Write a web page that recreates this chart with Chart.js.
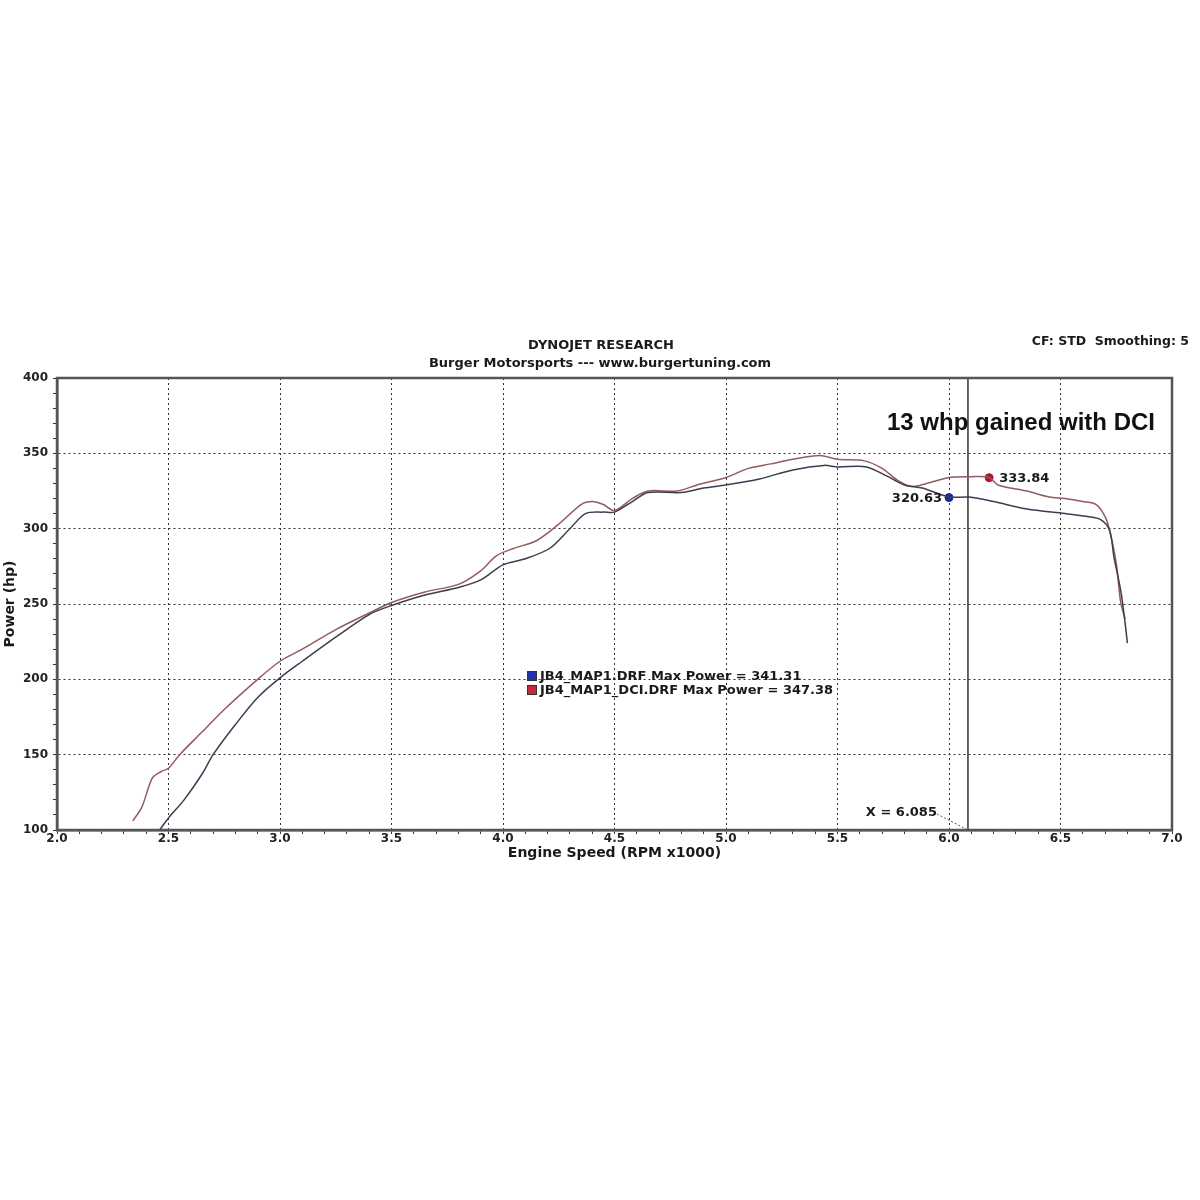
<!DOCTYPE html>
<html>
<head>
<meta charset="utf-8">
<script src="https://cdn.jsdelivr.net/npm/chart.js@4/dist/chart.umd.min.js"></script>
<style>
  html, body { margin: 0; background: #fff; }
</style>
</head>
<body>
<canvas id="dyno" width="1200" height="1200"></canvas>
<script>
// run 1: JB4 map 1 (blue)
const rpmMap1 = [2.46, 2.50, 2.57, 2.65, 2.70, 2.80, 2.90, 3.00, 3.10, 3.25, 3.40, 3.50, 3.65, 3.80, 3.90, 4.00,
  4.10, 4.21, 4.30, 4.37, 4.45, 4.50, 4.58, 4.65, 4.80, 4.90, 5.00, 5.15, 5.30, 5.44, 5.50, 5.63, 5.72, 5.80,
  5.88, 6.00, 6.09, 6.20, 6.35, 6.52, 6.62, 6.68, 6.72, 6.74, 6.77, 6.79, 6.80];
const hpMap1 = [100, 108, 120, 137, 150, 170, 188, 201, 212, 228, 243, 249, 256, 261, 266, 276,
  280, 287, 300, 310, 311, 311, 318, 324, 324, 327, 329, 333, 339, 342, 341, 341, 335, 329,
  327, 321, 321, 318, 313, 310, 308, 306, 299, 281, 259, 237, 224];

// run 2: JB4 map 1 + DCI (red)
const rpmDci = [2.34, 2.38, 2.41, 2.43, 2.47, 2.50, 2.55, 2.65, 2.75, 2.90, 3.00, 3.10, 3.25, 3.40, 3.50, 3.65,
  3.80, 3.90, 3.97, 4.05, 4.15, 4.25, 4.35, 4.40, 4.45, 4.50, 4.58, 4.65, 4.78, 4.87, 5.00, 5.10, 5.20, 5.30,
  5.42, 5.50, 5.62, 5.70, 5.77, 5.83, 5.90, 6.00, 6.10, 6.18, 6.22, 6.35, 6.45, 6.52, 6.60, 6.66, 6.70, 6.72,
  6.75, 6.77, 6.79];
const hpDci = [106, 115, 128, 135, 139, 141, 150, 165, 180, 200, 212, 220, 233, 244, 251, 258,
  263, 272, 282, 287, 292, 303, 316, 318, 316, 312, 320, 325, 325, 329, 334, 340, 343, 346,
  348.5, 346, 345, 340, 332, 328, 330, 334, 334.5, 334, 329, 325, 321, 320, 318, 316, 308, 299,
  277, 251, 240];

const xLabels = ["2.0", "2.5", "3.0", "3.5", "4.0", "4.5", "5.0", "5.5", "6.0", "6.5", "7.0"];
const yLabels = ["100", "150", "200", "250", "300", "350", "400"];

const cursorRpm = 6.085;
const markMap1 = { x: 6.0, y: 320.63 };
const markDci = { x: 6.18, y: 333.84 };
const legendLabels = ["JB4_MAP1.DRF Max Power = 341.31", "JB4_MAP1_DCI.DRF Max Power = 347.38"];

const FONT = "DejaVu Sans";
const toPoints = (xs, ys) => xs.map((x, i) => ({ x: x, y: ys[i] }));
const isMajor = (v, step) => Math.abs(v / step - Math.round(v / step)) < 1e-6;

const overlay = {
  id: "overlay",
  beforeDraw(chart) {
    const ctx = chart.ctx;
    ctx.save();
    ctx.fillStyle = "#fff";
    ctx.fillRect(0, 0, chart.width, chart.height);
    ctx.restore();
  },
  beforeDatasetsDraw(chart) {
    const { ctx, chartArea: a, scales: { x } } = chart;
    const cx = x.getPixelForValue(cursorRpm);
    ctx.save();
    ctx.strokeStyle = "#333";
    ctx.lineWidth = 1.5;
    ctx.beginPath();
    ctx.moveTo(cx, a.top);
    ctx.lineTo(cx, a.bottom);
    ctx.stroke();
    ctx.restore();
  },
  afterDraw(chart) {
    const { ctx, chartArea: a, scales: { x, y } } = chart;
    ctx.save();
    ctx.strokeStyle = "#555";
    ctx.lineWidth = 2.5;
    ctx.strokeRect(a.left, a.top, a.right - a.left, a.bottom - a.top);

    ctx.fillStyle = "#1a1a1a";
    ctx.textBaseline = "middle";
    ctx.font = "bold 13px " + FONT;
    ctx.textAlign = "center";
    ctx.fillText("DYNOJET RESEARCH", 601, 346);
    ctx.fillText("Burger Motorsports --- www.burgertuning.com", 600, 364);
    ctx.font = "bold 12.5px " + FONT;
    ctx.textAlign = "right";
    ctx.fillText("CF: STD  Smoothing: 5", 1189, 342);

    // annotation
    ctx.textAlign = "left";
    ctx.font = "bold 24px 'Liberation Sans'";
    ctx.fillStyle = "#111";
    ctx.fillText("13 whp gained with DCI", 887, 423);

    // marker labels
    ctx.font = "bold 13px " + FONT;
    ctx.fillStyle = "#1a1a1a";
    ctx.textAlign = "right";
    ctx.fillText(markMap1.y.toFixed(2), x.getPixelForValue(markMap1.x) - 7, y.getPixelForValue(markMap1.y) + 1);
    ctx.textAlign = "left";
    ctx.fillText(markDci.y.toFixed(2), x.getPixelForValue(markDci.x) + 10, y.getPixelForValue(markDci.y) + 1);

    // cursor readout
    const cx = x.getPixelForValue(cursorRpm);
    ctx.textAlign = "right";
    ctx.fillText("X = " + cursorRpm.toFixed(3), cx - 31, a.bottom - 17);
    ctx.strokeStyle = "#555";
    ctx.lineWidth = 1;
    ctx.setLineDash([2, 2]);
    ctx.beginPath();
    ctx.moveTo(cx - 31, a.bottom - 16);
    ctx.lineTo(cx, a.bottom);
    ctx.stroke();
    ctx.setLineDash([]);

    // legend in the plot
    const colors = ["#2434b0", "#c8283a"];
    legendLabels.forEach((txt, i) => {
      const ly = 676 + i * 14;
      ctx.fillStyle = colors[i];
      ctx.fillRect(527, ly - 5, 10, 10);
      ctx.strokeStyle = "#333";
      ctx.lineWidth = 1;
      ctx.strokeRect(527.5, ly - 4.5, 9, 9);
      ctx.fillStyle = "#1a1a1a";
      ctx.textAlign = "left";
      ctx.font = "bold 13px " + FONT;
      ctx.fillText(txt, 540, ly + 1);
    });
    ctx.restore();
  }
};

new Chart(document.getElementById("dyno"), {
  type: "scatter",
  data: {
    datasets: [
      {
        label: "JB4_MAP1.DRF",
        data: toPoints(rpmMap1, hpMap1),
        showLine: true,
        borderColor: "#3c3c52",
        borderWidth: 1.5,
        pointRadius: 0,
        tension: 0.3
      },
      {
        label: "JB4_MAP1_DCI.DRF",
        data: toPoints(rpmDci, hpDci),
        showLine: true,
        borderColor: "#955a60",
        borderWidth: 1.5,
        pointRadius: 0,
        tension: 0.3
      },
      {
        label: "map1 mark",
        data: [markMap1],
        pointRadius: 4,
        pointBackgroundColor: "#1628a0",
        pointBorderColor: "#1628a0"
      },
      {
        label: "dci mark",
        data: [markDci],
        pointRadius: 4,
        pointBackgroundColor: "#b01828",
        pointBorderColor: "#b01828"
      }
    ]
  },
  options: {
    responsive: false,
    animation: false,
    layout: { padding: { left: 0, right: 28, top: 378, bottom: 330 } },
    plugins: {
      legend: { display: false },
      tooltip: { enabled: false }
    },
    scales: {
      x: {
        type: "linear",
        min: 2,
        max: 7,
        afterFit: s => { s.height = 40; },
        ticks: {
          stepSize: 0.1,
          autoSkip: false,
          maxRotation: 0,
          padding: -2,
          color: "#222",
          font: { family: FONT, size: 12, weight: "bold" },
          callback: v => isMajor(v, 0.5) ? xLabels[Math.round((v - 2) * 2)] : ""
        },
        grid: {
          color: c => (c.tick && isMajor(c.tick.value, 0.5)) ? "#333" : "rgba(0,0,0,0)",
          lineWidth: 1,
          tickColor: "#333",
          tickLength: 4
        },
        border: { display: true, color: "#555", width: 2.5, dash: [2, 3] },
        title: {
          display: true,
          text: "Engine Speed (RPM x1000)",
          color: "#1a1a1a",
          font: { family: FONT, size: 14, weight: "bold" },
          padding: { top: 0, bottom: 8 }
        }
      },
      y: {
        min: 100,
        max: 400,
        afterFit: s => { s.width = 57; },
        ticks: {
          stepSize: 10,
          autoSkip: false,
          padding: 5,
          color: "#222",
          font: { family: FONT, size: 12, weight: "bold" },
          callback: v => isMajor(v, 50) ? yLabels[Math.round((v - 100) / 50)] : ""
        },
        grid: {
          color: c => (c.tick && isMajor(c.tick.value, 50)) ? "#333" : "rgba(0,0,0,0)",
          lineWidth: 1,
          tickColor: "#333",
          tickLength: 4
        },
        border: { display: true, color: "#555", width: 2.5, dash: [2, 3] },
        title: {
          display: true,
          text: "Power (hp)",
          color: "#1a1a1a",
          font: { family: FONT, size: 14, weight: "bold" },
          padding: { top: 2, bottom: 0 }
        }
      }
    }
  },
  plugins: [overlay]
});
</script>
</body>
</html>
